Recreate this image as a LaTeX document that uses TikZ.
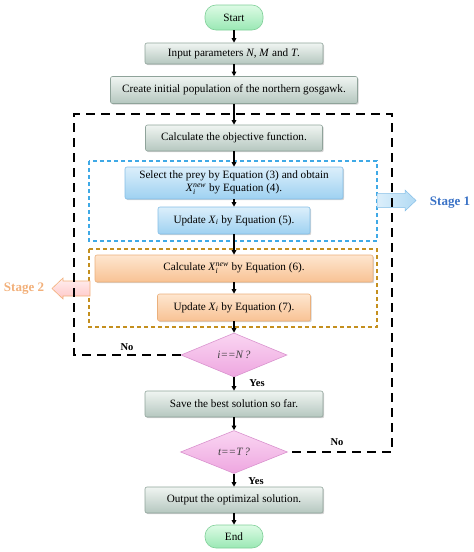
\documentclass[tikz,border=0pt]{standalone}
\usepackage{amsmath}
\usepackage{fontspec}
\setmainfont{Liberation Serif}
\usetikzlibrary{shapes.geometric,shadows,arrows.meta}
\definecolor{gtop}{HTML}{F0F5F2}
\definecolor{gbot}{HTML}{B5C7BF}
\definecolor{gdraw}{HTML}{8FA39A}
\definecolor{btop}{HTML}{DCEFFB}
\definecolor{bbot}{HTML}{9ED1F1}
\definecolor{bdraw}{HTML}{84BEE6}
\definecolor{otop}{HTML}{FEE6CF}
\definecolor{obot}{HTML}{F8C294}
\definecolor{odraw}{HTML}{EBB07C}
\definecolor{ptop}{HTML}{FAD6F2}
\definecolor{pbot}{HTML}{EEA6E0}
\definecolor{pdraw}{HTML}{DA94CF}
\definecolor{ttop}{HTML}{DDFBE5}
\definecolor{tbot}{HTML}{9AE8B4}
\definecolor{tdraw}{HTML}{7FCF98}
\definecolor{bluedashc}{HTML}{3FA9E6}
\definecolor{orangedashc}{HTML}{C48F1E}
\definecolor{stageone}{HTML}{3A72C6}
\definecolor{stagetwo}{HTML}{F2B07A}
\newcommand{\XiNew}{\textit{X}$_{\textit{i}}^{\textit{new}}$}
\newcommand{\XiPlain}{\textit{X}$_{\textit{i}}$}
\begin{document}
\begin{tikzpicture}[x=1pt,y=-1pt,
  basebox/.style={draw, line width=0.6pt, rounded corners=2pt, inner sep=0pt,
    align=center, font=\fontsize{11.2}{13}\selectfont,
    drop shadow={shadow xshift=1.2pt, shadow yshift=-1.2pt, opacity=0.35}},
  graybox/.style={basebox, draw=gdraw, top color=gtop, bottom color=gbot},
  bluebox/.style={basebox, draw=bdraw, top color=btop, bottom color=bbot},
  orangebox/.style={basebox, draw=odraw, top color=otop, bottom color=obot},
  term/.style={draw=tdraw, line width=0.6pt, rounded corners=11pt, inner sep=0pt,
    top color=ttop, bottom color=tbot, font=\fontsize{11.2}{13}\selectfont,
    minimum width=58pt},
  decision/.style={diamond, draw=pdraw, line width=0.6pt, inner sep=0pt,
    top color=ptop, bottom color=pbot, font=\fontsize{11.2}{13}\selectfont\itshape,
    text=black!75},
  arr/.style={-{Triangle[length=4.5pt,width=4.5pt]}, line width=1.3pt},
  loopline/.style={line width=1.7pt, dash pattern=on 9pt off 6pt},
  bluedash/.style={bluedashc, line width=1.3pt, dash pattern=on 4pt off 3pt},
  orangedash/.style={orangedashc, line width=1.3pt, dash pattern=on 4pt off 3pt},
  lbl/.style={font=\fontsize{10.5}{12}\selectfont\bfseries},
  stagelbl/.style={font=\fontsize{13}{15}\selectfont\bfseries}
]
\useasboundingbox (0,0) rectangle (474,552);

% dashed regions
\draw[bluedash] (89,161) rectangle (377,241);
\draw[orangedash] (89,249) rectangle (377,327);

% nodes
\node[term, minimum height=25pt] (start) at (234,17.5) {Start};
\node[graybox, minimum width=178pt, minimum height=21pt] (input) at (234,53.5) {Input parameters \textit{N}, \textit{M} and \textit{T}.};
\node[graybox, minimum width=247pt, minimum height=27pt] (create) at (234,90) {Create initial population of the northern gosgawk.};
\node[graybox, minimum width=177pt, minimum height=26pt] (calcobj) at (234,138) {Calculate the objective function.};
\node[bluebox, minimum width=218pt, minimum height=32pt] (select) at (234,183) {Select the prey by Equation (3) and obtain\\ \XiNew{} by Equation (4).};
\node[bluebox, minimum width=152pt, minimum height=27pt] (upd5) at (234,220.5) {Update \XiPlain{} by Equation (5).};
\node[orangebox, minimum width=278pt, minimum height=27pt] (calc6) at (234,268.5) {Calculate \XiNew{} by Equation (6).};
\node[orangebox, minimum width=153pt, minimum height=27pt] (upd7) at (234,307.5) {Update \XiPlain{} by Equation (7).};
\node[decision, minimum width=106pt, minimum height=44pt] (dN) at (234,355) {i==N\,?};
\node[graybox, minimum width=178pt, minimum height=26pt] (save) at (234,404) {Save the best solution so far.};
\node[decision, minimum width=107pt, minimum height=43pt] (dT) at (234,452) {t==T\,?};
\node[graybox, minimum width=178pt, minimum height=26pt] (output) at (234,500) {Output the optimizal solution.};
\node[term, minimum height=23pt] (end) at (234,536.5) {End};

% stage arrows
\shade[draw=bdraw, line width=0.5pt, left color=btop, right color=bbot!80]
  (377,193.5) -- (405,193.5) -- (405,190) -- (416,200.5) -- (405,211) -- (405,207.5) -- (377,207.5) -- cycle;
\node[stagelbl, text=stageone] (s1text) at (450,203) {Stage 1};
\shade[draw=stagetwo, line width=0.6pt, top color=red!6, bottom color=red!22]
  (90,281) -- (63,281) -- (63,278) -- (52,288.5) -- (63,299) -- (63,296) -- (90,296) -- cycle;
\node[stagelbl, text=stagetwo] (s2text) at (24,289) {Stage 2};

% loop
\coordinate (tl) at (74,114);
\coordinate (tr) at (392,114);
\draw[loopline] (dN.west) -| (tl) -- (tr) |- (dT.east);

% main flow
\draw[arr] (start) -- (input);
\draw[arr] (input) -- (create);
\draw[arr] (create) -- (calcobj);
\draw[arr] (calcobj) -- (select);
\draw[arr] (select) -- (upd5);
\draw[arr] (upd5) -- (calc6);
\draw[arr] (calc6) -- (upd7);
\draw[arr] (upd7) -- (dN);
\draw[arr] (dN) -- (save);
\draw[arr] (save) -- (dT);
\draw[arr] (dT) -- (output);
\draw[arr] (output) -- (end);

% labels
\node[lbl] (noN) at (127,347) {No};
\node[lbl] (yesN) at (257,383) {Yes};
\node[lbl] (noT) at (337,442) {No};
\node[lbl] (yesT) at (256,481) {Yes};
\end{tikzpicture}
\end{document}
